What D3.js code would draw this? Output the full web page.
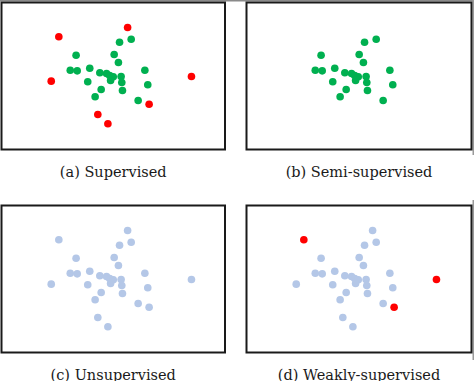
<!DOCTYPE html>
<html><head><meta charset="utf-8">
<script src="https://cdn.jsdelivr.net/npm/d3@7"></script>
<style>html,body{margin:0;padding:0;background:#fff;}svg{display:block;}</style>
</head><body>
<svg id="c" width="474" height="381"></svg>
<script>
// Points in data units (0-100 both axes, y downward like the figure)
const inlierX  = [57.9,52.7,33.3,50.3,52.2,30.7,33.8,39.4,64.0,43.9,46.9,48.3,49.9,53.4,48.7,53.7,38.5,65.3,44.5,54.0,41.8,61.0];
const inlierY  = [25.0,27.0,35.9,35.4,40.8,46.1,46.5,44.7,46.1,47.8,48.3,49.7,50.5,50.3,53.1,54.4,53.9,56.0,59.2,59.9,64.1,66.7];
const outlierX = [25.6,56.3,22.2,84.8,65.9,43.0,47.5];
const outlierY = [23.3,17.0,53.5,50.3,69.2,76.2,82.5];
// which outliers are labelled in the weakly-supervised panel
const weakLabelled = [0,3,4];
const captions = ["(a) Supervised","(b) Semi-supervised","(c) Unsupervised","(d) Weakly-supervised"];

const GREEN="#00b050", RED="#ff0000", BLUE="#b4c7e7";

const svg = d3.select("#c");
// scan artefacts: grey top strip and right strip
svg.append("rect").attr("x",0).attr("y",0).attr("width",474).attr("height",1.5).attr("fill","#8a8a8a");
svg.append("rect").attr("x",472.5).attr("y",0).attr("width",2).attr("height",155).attr("fill","#9a9a9a");
svg.append("rect").attr("x",472.5).attr("y",200).attr("width",2).attr("height",160).attr("fill","#9a9a9a");

const panels = [
  {x0:1.5, y0:2.5, w:223.5, h:147},
  {x0:246.5, y0:2.5, w:225, h:147},
  {x0:1.5, y0:205.5, w:223.5, h:147},
  {x0:246.5, y0:205.5, w:225, h:147}
];

function pointsFor(i){
  const pts=[];
  if(i===0){
    inlierX.forEach((x,k)=>pts.push({x,y:inlierY[k],c:GREEN}));
    outlierX.forEach((x,k)=>pts.push({x,y:outlierY[k],c:RED}));
  } else if(i===1){
    inlierX.forEach((x,k)=>pts.push({x,y:inlierY[k],c:GREEN}));
  } else if(i===2){
    inlierX.forEach((x,k)=>pts.push({x,y:inlierY[k],c:BLUE}));
    outlierX.forEach((x,k)=>pts.push({x,y:outlierY[k],c:BLUE}));
  } else {
    inlierX.forEach((x,k)=>pts.push({x,y:inlierY[k],c:BLUE}));
    outlierX.forEach((x,k)=>{ if(!weakLabelled.includes(k)) pts.push({x,y:outlierY[k],c:BLUE}); });
    outlierX.forEach((x,k)=>{ if(weakLabelled.includes(k)) pts.push({x,y:outlierY[k],c:RED}); });
  }
  return pts;
}

panels.forEach((p,i)=>{
  const g = svg.append("g");
  const xs = d3.scaleLinear().domain([0,100]).range([p.x0, p.x0+224]);
  const ys = d3.scaleLinear().domain([0,100]).range([p.y0, p.y0+147]);
  g.append("rect").attr("x",p.x0).attr("y",p.y0).attr("width",p.w).attr("height",p.h)
    .attr("fill","#fff").attr("stroke","#1a1a1a").attr("stroke-width",2);
  g.selectAll("circle").data(pointsFor(i)).join("circle")
    .attr("cx",d=>xs(d.x)).attr("cy",d=>ys(d.y)).attr("r",3.8).attr("fill",d=>d.c);
  g.append("text").attr("x",p.x0+p.w/2).attr("y",p.y0+p.h+27)
    .attr("text-anchor","middle").attr("font-family","'DejaVu Serif', serif")
    .attr("font-size",14.5).attr("fill","#1a1a1a").text(captions[i]);
});
</script>
</body></html>
